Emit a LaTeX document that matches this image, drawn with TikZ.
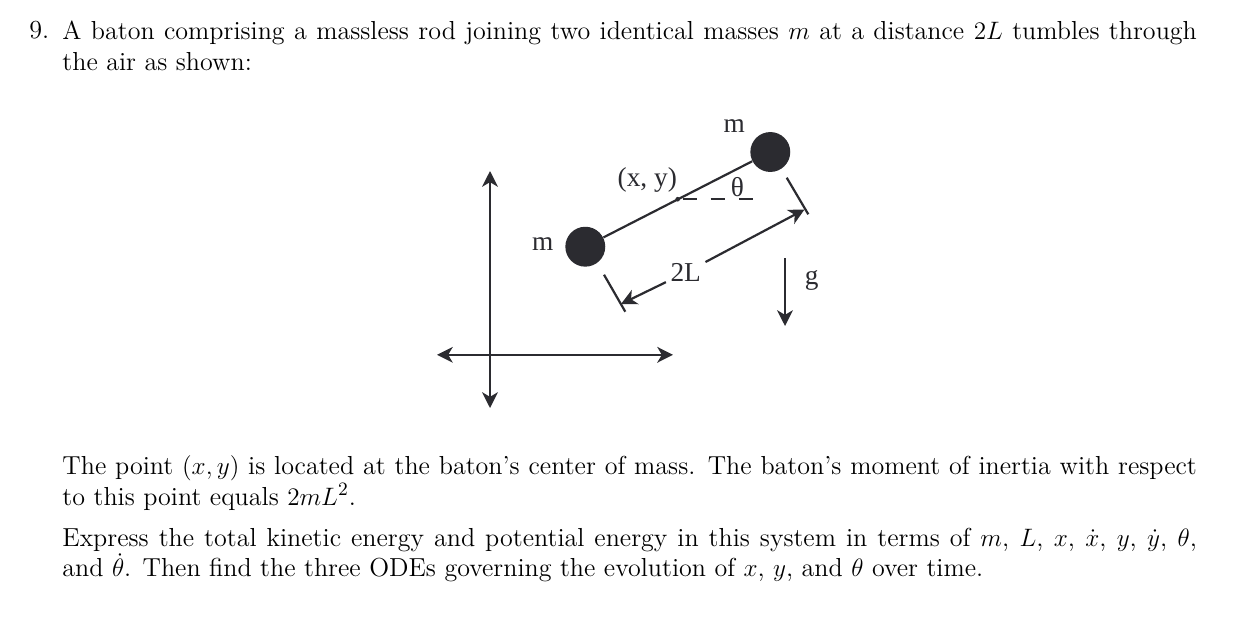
\documentclass[tikz,border=0pt]{standalone}
\usepackage{fontspec}
\newfontfamily\figfont{Liberation Serif}
\usepackage{xcolor}
\usetikzlibrary{positioning,arrows.meta}
\definecolor{inkdark}{HTML}{2B2B30}
\tikzset{
    para/.style={anchor=north west, inner sep=0pt, text width=540pt, align=justify,
                 font=\fontsize{12.4}{14.6}\selectfont},
    mass/.style={circle, fill=inkdark, minimum size=19pt, inner sep=0pt},
    figlabel/.style={text=inkdark, inner sep=2pt, font=\figfont\fontsize{13}{15}\selectfont},
    figline/.style={draw=inkdark, line width=1.05pt},
    figarrow/.style={figline, -{Stealth[length=7.5pt,width=7.5pt,inset=2.2pt]}},
    figaxis/.style={figline, {Stealth[length=7.5pt,width=7.5pt,inset=2.2pt]}-{Stealth[length=7.5pt,width=7.5pt,inset=2.2pt]}}
}

\begin{document}
\begin{tikzpicture}[x=0.476pt, y=-0.476pt]
    \useasboundingbox (0,0) rectangle (1254,632);

    % Problem text
    \node[anchor=north west, inner sep=0pt, font=\fontsize{12.4}{14.6}\selectfont] (number) at (29,20.5) {9.};
    \node[para] (intro) at (62,20.5) {A baton comprising a massless rod joining two identical masses $m$ at a distance $2L$ tumbles through the air as shown:};
    \node[para] (inertia) at (62,455) {The point $(x,y)$ is located at the baton's center of mass. The baton's moment of inertia with respect to this point equals $2mL^2$.};
    \node[para] (task) at (62,527.5) {Express the total kinetic energy and potential energy in this system in terms of $m$, $L$, $x$, $\dot{x}$, $y$, $\dot{y}$, $\theta$,\linebreak and $\dot{\theta}$. Then find the three ODEs governing the evolution of $x$, $y$, and $\theta$ over time.};

    % Baton
    \node[mass] (massleft) at (585.3,246.7) {};
    \node[mass] (massright) at (770.3,152) {};
    \node[figlabel] (labelleft) at (542.7,244.5) {m};
    \node[figlabel] (labelright) at (734.3,126) {m};
    \draw[figline] (massleft) -- (massright);

    % Center of mass and angle
    \node[circle, fill=inkdark, minimum size=2.2pt, inner sep=0pt] (com) at (677.7,199.2) {};
    \coordinate (dashend) at (754,199.2);
    \draw[figline, dash pattern=on 6.7pt off 6.7pt, dash phase=-1pt] (com) -- (dashend);
    \node[figlabel] (labelcom) at (647.3,180) {(x, y)};
    \node[figlabel] (labeltheta) at (737.3,187) {\symbol{"03B8}};

    % Length of the rod
    \coordinate (tickrighta) at (786.7,177.7);
    \coordinate (tickrightb) at (808.3,214.3);
    \coordinate (tickleftac) at (604,274.7);
    \coordinate (tickleftb) at (625.3,311.7);
    \draw[figline] (tickrighta) -- (tickrightb);
    \draw[figline] (tickleftac) -- (tickleftb);
    \coordinate (tipright) at (804.5,209.5);
    \coordinate (tipleft) at (621,304);
    \node[figlabel] (labellen) at (685.7,272.5) {2L};
    \draw[figarrow] (labellen) -- (tipright);
    \draw[figarrow] (labellen) -- (tipleft);

    % Gravity
    \coordinate (gtop) at (785,258.3);
    \coordinate (gtip) at (785,326);
    \draw[figarrow] (gtop) -- (gtip);
    \node[figlabel] (labelg) at (811.7,280) {g};

    % Axes
    \coordinate (ytop) at (490,171);
    \coordinate (ybot) at (490,408);
    \coordinate (xleft) at (437,354.8);
    \coordinate (xright) at (673,354.8);
    \draw[figaxis] (ybot) -- (ytop);
    \draw[figaxis] (xleft) -- (xright);
\end{tikzpicture}
\end{document}
